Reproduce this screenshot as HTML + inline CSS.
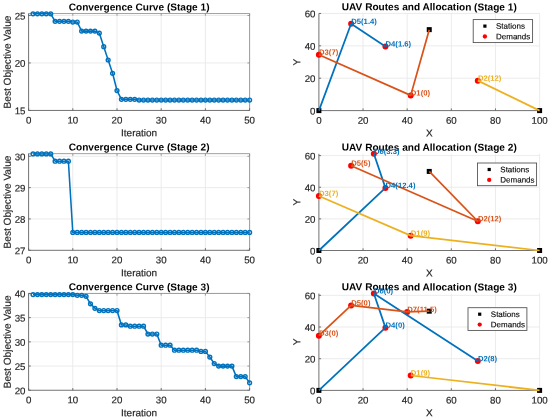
<!DOCTYPE html>
<html><head><meta charset="utf-8"><title>UAV Routes and Allocation</title>
<style>
html,body{margin:0;padding:0;background:#fff;}
body{width:550px;height:420px;overflow:hidden;}
svg{display:block;font-family:"Liberation Sans",sans-serif;}
.tk{font-size:9.7px;fill:#262626;stroke:#262626;stroke-width:0.18px;}
.lb{font-size:10px;fill:#262626;stroke:#262626;stroke-width:0.18px;}
.tt{font-size:10.1px;font-weight:bold;fill:#000;}
.lg{font-size:8px;fill:#000;stroke:#000;stroke-width:0.12px;}
.dl{font-size:7.7px;font-weight:bold;}
.grid{stroke:#e9e9e9;stroke-width:0.9;fill:none;}
.ax{stroke:#626262;stroke-width:0.9;fill:none;}
.bx{stroke:#888;stroke-width:0.8;fill:none;}
.cv{stroke:#0072BD;stroke-width:1.55;fill:none;stroke-linejoin:round;}
.mk{stroke:#0072BD;stroke-width:1.45;fill:none;}
.rt{stroke-width:1.75;fill:none;stroke-linejoin:round;}
</style></head><body>
<svg width="550" height="420" viewBox="0 0 550 420">
<rect x="0" y="0" width="550" height="420" fill="#ffffff"/>
<g>
<line class="grid" x1="72.8" y1="13.55" x2="72.8" y2="110.45"/>
<line class="grid" x1="117" y1="13.55" x2="117" y2="110.45"/>
<line class="grid" x1="161.2" y1="13.55" x2="161.2" y2="110.45"/>
<line class="grid" x1="205.4" y1="13.55" x2="205.4" y2="110.45"/>
<line class="grid" x1="249.6" y1="13.55" x2="249.6" y2="110.45"/>
<line class="grid" x1="28.6" y1="15.5" x2="249.6" y2="15.5"/>
<line class="grid" x1="28.6" y1="62.95" x2="249.6" y2="62.95"/>
<path class="bx" d="M28.6 13.55H249.6V110.45"/>
<line class="bx" x1="28.6" y1="13.55" x2="28.6" y2="15.75"/>
<line class="bx" x1="72.8" y1="13.55" x2="72.8" y2="15.75"/>
<line class="bx" x1="117" y1="13.55" x2="117" y2="15.75"/>
<line class="bx" x1="161.2" y1="13.55" x2="161.2" y2="15.75"/>
<line class="bx" x1="205.4" y1="13.55" x2="205.4" y2="15.75"/>
<line class="bx" x1="249.6" y1="13.55" x2="249.6" y2="15.75"/>
<line class="bx" x1="249.6" y1="15.5" x2="247.4" y2="15.5"/>
<line class="bx" x1="249.6" y1="62.95" x2="247.4" y2="62.95"/>
<line class="bx" x1="249.6" y1="110.45" x2="247.4" y2="110.45"/>
<path class="ax" d="M28.6 13.55V110.45H249.6"/>
<line class="ax" x1="28.6" y1="110.45" x2="28.6" y2="108.25"/>
<text class="tk" transform="translate(28.6 123.5) rotate(0.05)" text-anchor="middle">0</text>
<line class="ax" x1="72.8" y1="110.45" x2="72.8" y2="108.25"/>
<text class="tk" transform="translate(72.8 123.5) rotate(0.05)" text-anchor="middle">10</text>
<line class="ax" x1="117" y1="110.45" x2="117" y2="108.25"/>
<text class="tk" transform="translate(117 123.5) rotate(0.05)" text-anchor="middle">20</text>
<line class="ax" x1="161.2" y1="110.45" x2="161.2" y2="108.25"/>
<text class="tk" transform="translate(161.2 123.5) rotate(0.05)" text-anchor="middle">30</text>
<line class="ax" x1="205.4" y1="110.45" x2="205.4" y2="108.25"/>
<text class="tk" transform="translate(205.4 123.5) rotate(0.05)" text-anchor="middle">40</text>
<line class="ax" x1="249.6" y1="110.45" x2="249.6" y2="108.25"/>
<text class="tk" transform="translate(249.6 123.5) rotate(0.05)" text-anchor="middle">50</text>
<line class="ax" x1="28.6" y1="15.5" x2="30.8" y2="15.5"/>
<text class="tk" transform="translate(25.5 19.4) rotate(0.05)" text-anchor="end">25</text>
<line class="ax" x1="28.6" y1="62.95" x2="30.8" y2="62.95"/>
<text class="tk" transform="translate(25.5 66.85) rotate(0.05)" text-anchor="end">20</text>
<line class="ax" x1="28.6" y1="110.45" x2="30.8" y2="110.45"/>
<text class="tk" transform="translate(25.5 114.35) rotate(0.05)" text-anchor="end">15</text>
<text class="tt" transform="translate(139.1 10.45) rotate(0.05)" text-anchor="middle">Convergence Curve (Stage 1)</text>
<text class="lb" transform="translate(139.1 136.35) rotate(0.05)" text-anchor="middle">Iteration</text>
<text class="lb" transform="translate(10.7 62) rotate(-90.05)" text-anchor="middle" style="font-size:10.08px">Best Objective Value</text>
<polyline class="cv" points="33.02,13.8 37.44,13.8 41.86,13.8 46.28,13.8 50.7,13.8 55.12,21.3 59.54,21.3 63.96,21.3 68.38,21.3 72.8,22 77.22,22 81.64,31.1 86.06,31.1 90.48,31.1 94.9,31.1 99.32,33.1 103.74,46.7 108.16,60 112.58,73.3 117,90.5 121.42,99.3 125.84,99.3 130.26,99.3 134.68,99.3 139.1,100 143.52,100 147.94,100 152.36,100 156.78,100 161.2,100 165.62,100 170.04,100 174.46,100 178.88,100 183.3,100 187.72,100 192.14,100 196.56,100 200.98,100 205.4,100 209.82,100 214.24,100 218.66,100 223.08,100 227.5,100 231.92,100 236.34,100 240.76,100 245.18,100 249.6,100"/>
<circle class="mk" cx="33.02" cy="13.8" r="1.9"/>
<circle class="mk" cx="37.44" cy="13.8" r="1.9"/>
<circle class="mk" cx="41.86" cy="13.8" r="1.9"/>
<circle class="mk" cx="46.28" cy="13.8" r="1.9"/>
<circle class="mk" cx="50.7" cy="13.8" r="1.9"/>
<circle class="mk" cx="55.12" cy="21.3" r="1.9"/>
<circle class="mk" cx="59.54" cy="21.3" r="1.9"/>
<circle class="mk" cx="63.96" cy="21.3" r="1.9"/>
<circle class="mk" cx="68.38" cy="21.3" r="1.9"/>
<circle class="mk" cx="72.8" cy="22" r="1.9"/>
<circle class="mk" cx="77.22" cy="22" r="1.9"/>
<circle class="mk" cx="81.64" cy="31.1" r="1.9"/>
<circle class="mk" cx="86.06" cy="31.1" r="1.9"/>
<circle class="mk" cx="90.48" cy="31.1" r="1.9"/>
<circle class="mk" cx="94.9" cy="31.1" r="1.9"/>
<circle class="mk" cx="99.32" cy="33.1" r="1.9"/>
<circle class="mk" cx="103.74" cy="46.7" r="1.9"/>
<circle class="mk" cx="108.16" cy="60" r="1.9"/>
<circle class="mk" cx="112.58" cy="73.3" r="1.9"/>
<circle class="mk" cx="117" cy="90.5" r="1.9"/>
<circle class="mk" cx="121.42" cy="99.3" r="1.9"/>
<circle class="mk" cx="125.84" cy="99.3" r="1.9"/>
<circle class="mk" cx="130.26" cy="99.3" r="1.9"/>
<circle class="mk" cx="134.68" cy="99.3" r="1.9"/>
<circle class="mk" cx="139.1" cy="100" r="1.9"/>
<circle class="mk" cx="143.52" cy="100" r="1.9"/>
<circle class="mk" cx="147.94" cy="100" r="1.9"/>
<circle class="mk" cx="152.36" cy="100" r="1.9"/>
<circle class="mk" cx="156.78" cy="100" r="1.9"/>
<circle class="mk" cx="161.2" cy="100" r="1.9"/>
<circle class="mk" cx="165.62" cy="100" r="1.9"/>
<circle class="mk" cx="170.04" cy="100" r="1.9"/>
<circle class="mk" cx="174.46" cy="100" r="1.9"/>
<circle class="mk" cx="178.88" cy="100" r="1.9"/>
<circle class="mk" cx="183.3" cy="100" r="1.9"/>
<circle class="mk" cx="187.72" cy="100" r="1.9"/>
<circle class="mk" cx="192.14" cy="100" r="1.9"/>
<circle class="mk" cx="196.56" cy="100" r="1.9"/>
<circle class="mk" cx="200.98" cy="100" r="1.9"/>
<circle class="mk" cx="205.4" cy="100" r="1.9"/>
<circle class="mk" cx="209.82" cy="100" r="1.9"/>
<circle class="mk" cx="214.24" cy="100" r="1.9"/>
<circle class="mk" cx="218.66" cy="100" r="1.9"/>
<circle class="mk" cx="223.08" cy="100" r="1.9"/>
<circle class="mk" cx="227.5" cy="100" r="1.9"/>
<circle class="mk" cx="231.92" cy="100" r="1.9"/>
<circle class="mk" cx="236.34" cy="100" r="1.9"/>
<circle class="mk" cx="240.76" cy="100" r="1.9"/>
<circle class="mk" cx="245.18" cy="100" r="1.9"/>
<circle class="mk" cx="249.6" cy="100" r="1.9"/>
</g>
<g>
<line class="grid" x1="72.8" y1="153.65" x2="72.8" y2="250.3"/>
<line class="grid" x1="117" y1="153.65" x2="117" y2="250.3"/>
<line class="grid" x1="161.2" y1="153.65" x2="161.2" y2="250.3"/>
<line class="grid" x1="205.4" y1="153.65" x2="205.4" y2="250.3"/>
<line class="grid" x1="249.6" y1="153.65" x2="249.6" y2="250.3"/>
<line class="grid" x1="28.6" y1="156.3" x2="249.6" y2="156.3"/>
<line class="grid" x1="28.6" y1="187.65" x2="249.6" y2="187.65"/>
<line class="grid" x1="28.6" y1="218.95" x2="249.6" y2="218.95"/>
<path class="bx" d="M28.6 153.65H249.6V250.3"/>
<line class="bx" x1="28.6" y1="153.65" x2="28.6" y2="155.85"/>
<line class="bx" x1="72.8" y1="153.65" x2="72.8" y2="155.85"/>
<line class="bx" x1="117" y1="153.65" x2="117" y2="155.85"/>
<line class="bx" x1="161.2" y1="153.65" x2="161.2" y2="155.85"/>
<line class="bx" x1="205.4" y1="153.65" x2="205.4" y2="155.85"/>
<line class="bx" x1="249.6" y1="153.65" x2="249.6" y2="155.85"/>
<line class="bx" x1="249.6" y1="156.3" x2="247.4" y2="156.3"/>
<line class="bx" x1="249.6" y1="187.65" x2="247.4" y2="187.65"/>
<line class="bx" x1="249.6" y1="218.95" x2="247.4" y2="218.95"/>
<line class="bx" x1="249.6" y1="250.3" x2="247.4" y2="250.3"/>
<path class="ax" d="M28.6 153.65V250.3H249.6"/>
<line class="ax" x1="28.6" y1="250.3" x2="28.6" y2="248.1"/>
<text class="tk" transform="translate(28.6 263.35) rotate(0.05)" text-anchor="middle">0</text>
<line class="ax" x1="72.8" y1="250.3" x2="72.8" y2="248.1"/>
<text class="tk" transform="translate(72.8 263.35) rotate(0.05)" text-anchor="middle">10</text>
<line class="ax" x1="117" y1="250.3" x2="117" y2="248.1"/>
<text class="tk" transform="translate(117 263.35) rotate(0.05)" text-anchor="middle">20</text>
<line class="ax" x1="161.2" y1="250.3" x2="161.2" y2="248.1"/>
<text class="tk" transform="translate(161.2 263.35) rotate(0.05)" text-anchor="middle">30</text>
<line class="ax" x1="205.4" y1="250.3" x2="205.4" y2="248.1"/>
<text class="tk" transform="translate(205.4 263.35) rotate(0.05)" text-anchor="middle">40</text>
<line class="ax" x1="249.6" y1="250.3" x2="249.6" y2="248.1"/>
<text class="tk" transform="translate(249.6 263.35) rotate(0.05)" text-anchor="middle">50</text>
<line class="ax" x1="28.6" y1="156.3" x2="30.8" y2="156.3"/>
<text class="tk" transform="translate(25.5 160.2) rotate(0.05)" text-anchor="end">30</text>
<line class="ax" x1="28.6" y1="187.65" x2="30.8" y2="187.65"/>
<text class="tk" transform="translate(25.5 191.55) rotate(0.05)" text-anchor="end">29</text>
<line class="ax" x1="28.6" y1="218.95" x2="30.8" y2="218.95"/>
<text class="tk" transform="translate(25.5 222.85) rotate(0.05)" text-anchor="end">28</text>
<line class="ax" x1="28.6" y1="250.3" x2="30.8" y2="250.3"/>
<text class="tk" transform="translate(25.5 254.2) rotate(0.05)" text-anchor="end">27</text>
<text class="tt" transform="translate(139.1 150.55) rotate(0.05)" text-anchor="middle">Convergence Curve (Stage 2)</text>
<text class="lb" transform="translate(139.1 276.2) rotate(0.05)" text-anchor="middle">Iteration</text>
<text class="lb" transform="translate(10.7 201.98) rotate(-90.05)" text-anchor="middle" style="font-size:10.08px">Best Objective Value</text>
<polyline class="cv" points="33.02,153.9 37.44,153.9 41.86,153.9 46.28,153.9 50.7,153.9 55.12,161.2 59.54,161.2 63.96,161.2 68.38,161.2 72.8,232.4 77.22,232.4 81.64,232.4 86.06,232.4 90.48,232.4 94.9,232.4 99.32,232.4 103.74,232.4 108.16,232.4 112.58,232.4 117,232.4 121.42,232.4 125.84,232.4 130.26,232.4 134.68,232.4 139.1,232.4 143.52,232.4 147.94,232.4 152.36,232.4 156.78,232.4 161.2,232.4 165.62,232.4 170.04,232.4 174.46,232.4 178.88,232.4 183.3,232.4 187.72,232.4 192.14,232.4 196.56,232.4 200.98,232.4 205.4,232.4 209.82,232.4 214.24,232.4 218.66,232.4 223.08,232.4 227.5,232.4 231.92,232.4 236.34,232.4 240.76,232.4 245.18,232.4 249.6,232.4"/>
<circle class="mk" cx="33.02" cy="153.9" r="1.9"/>
<circle class="mk" cx="37.44" cy="153.9" r="1.9"/>
<circle class="mk" cx="41.86" cy="153.9" r="1.9"/>
<circle class="mk" cx="46.28" cy="153.9" r="1.9"/>
<circle class="mk" cx="50.7" cy="153.9" r="1.9"/>
<circle class="mk" cx="55.12" cy="161.2" r="1.9"/>
<circle class="mk" cx="59.54" cy="161.2" r="1.9"/>
<circle class="mk" cx="63.96" cy="161.2" r="1.9"/>
<circle class="mk" cx="68.38" cy="161.2" r="1.9"/>
<circle class="mk" cx="72.8" cy="232.4" r="1.9"/>
<circle class="mk" cx="77.22" cy="232.4" r="1.9"/>
<circle class="mk" cx="81.64" cy="232.4" r="1.9"/>
<circle class="mk" cx="86.06" cy="232.4" r="1.9"/>
<circle class="mk" cx="90.48" cy="232.4" r="1.9"/>
<circle class="mk" cx="94.9" cy="232.4" r="1.9"/>
<circle class="mk" cx="99.32" cy="232.4" r="1.9"/>
<circle class="mk" cx="103.74" cy="232.4" r="1.9"/>
<circle class="mk" cx="108.16" cy="232.4" r="1.9"/>
<circle class="mk" cx="112.58" cy="232.4" r="1.9"/>
<circle class="mk" cx="117" cy="232.4" r="1.9"/>
<circle class="mk" cx="121.42" cy="232.4" r="1.9"/>
<circle class="mk" cx="125.84" cy="232.4" r="1.9"/>
<circle class="mk" cx="130.26" cy="232.4" r="1.9"/>
<circle class="mk" cx="134.68" cy="232.4" r="1.9"/>
<circle class="mk" cx="139.1" cy="232.4" r="1.9"/>
<circle class="mk" cx="143.52" cy="232.4" r="1.9"/>
<circle class="mk" cx="147.94" cy="232.4" r="1.9"/>
<circle class="mk" cx="152.36" cy="232.4" r="1.9"/>
<circle class="mk" cx="156.78" cy="232.4" r="1.9"/>
<circle class="mk" cx="161.2" cy="232.4" r="1.9"/>
<circle class="mk" cx="165.62" cy="232.4" r="1.9"/>
<circle class="mk" cx="170.04" cy="232.4" r="1.9"/>
<circle class="mk" cx="174.46" cy="232.4" r="1.9"/>
<circle class="mk" cx="178.88" cy="232.4" r="1.9"/>
<circle class="mk" cx="183.3" cy="232.4" r="1.9"/>
<circle class="mk" cx="187.72" cy="232.4" r="1.9"/>
<circle class="mk" cx="192.14" cy="232.4" r="1.9"/>
<circle class="mk" cx="196.56" cy="232.4" r="1.9"/>
<circle class="mk" cx="200.98" cy="232.4" r="1.9"/>
<circle class="mk" cx="205.4" cy="232.4" r="1.9"/>
<circle class="mk" cx="209.82" cy="232.4" r="1.9"/>
<circle class="mk" cx="214.24" cy="232.4" r="1.9"/>
<circle class="mk" cx="218.66" cy="232.4" r="1.9"/>
<circle class="mk" cx="223.08" cy="232.4" r="1.9"/>
<circle class="mk" cx="227.5" cy="232.4" r="1.9"/>
<circle class="mk" cx="231.92" cy="232.4" r="1.9"/>
<circle class="mk" cx="236.34" cy="232.4" r="1.9"/>
<circle class="mk" cx="240.76" cy="232.4" r="1.9"/>
<circle class="mk" cx="245.18" cy="232.4" r="1.9"/>
<circle class="mk" cx="249.6" cy="232.4" r="1.9"/>
</g>
<g>
<line class="grid" x1="72.8" y1="293.45" x2="72.8" y2="390.25"/>
<line class="grid" x1="117" y1="293.45" x2="117" y2="390.25"/>
<line class="grid" x1="161.2" y1="293.45" x2="161.2" y2="390.25"/>
<line class="grid" x1="205.4" y1="293.45" x2="205.4" y2="390.25"/>
<line class="grid" x1="249.6" y1="293.45" x2="249.6" y2="390.25"/>
<line class="grid" x1="28.6" y1="293.45" x2="249.6" y2="293.45"/>
<line class="grid" x1="28.6" y1="317.65" x2="249.6" y2="317.65"/>
<line class="grid" x1="28.6" y1="341.85" x2="249.6" y2="341.85"/>
<line class="grid" x1="28.6" y1="366.05" x2="249.6" y2="366.05"/>
<path class="bx" d="M28.6 293.45H249.6V390.25"/>
<line class="bx" x1="28.6" y1="293.45" x2="28.6" y2="295.65"/>
<line class="bx" x1="72.8" y1="293.45" x2="72.8" y2="295.65"/>
<line class="bx" x1="117" y1="293.45" x2="117" y2="295.65"/>
<line class="bx" x1="161.2" y1="293.45" x2="161.2" y2="295.65"/>
<line class="bx" x1="205.4" y1="293.45" x2="205.4" y2="295.65"/>
<line class="bx" x1="249.6" y1="293.45" x2="249.6" y2="295.65"/>
<line class="bx" x1="249.6" y1="293.45" x2="247.4" y2="293.45"/>
<line class="bx" x1="249.6" y1="317.65" x2="247.4" y2="317.65"/>
<line class="bx" x1="249.6" y1="341.85" x2="247.4" y2="341.85"/>
<line class="bx" x1="249.6" y1="366.05" x2="247.4" y2="366.05"/>
<line class="bx" x1="249.6" y1="390.25" x2="247.4" y2="390.25"/>
<path class="ax" d="M28.6 293.45V390.25H249.6"/>
<line class="ax" x1="28.6" y1="390.25" x2="28.6" y2="388.05"/>
<text class="tk" transform="translate(28.6 403.3) rotate(0.05)" text-anchor="middle">0</text>
<line class="ax" x1="72.8" y1="390.25" x2="72.8" y2="388.05"/>
<text class="tk" transform="translate(72.8 403.3) rotate(0.05)" text-anchor="middle">10</text>
<line class="ax" x1="117" y1="390.25" x2="117" y2="388.05"/>
<text class="tk" transform="translate(117 403.3) rotate(0.05)" text-anchor="middle">20</text>
<line class="ax" x1="161.2" y1="390.25" x2="161.2" y2="388.05"/>
<text class="tk" transform="translate(161.2 403.3) rotate(0.05)" text-anchor="middle">30</text>
<line class="ax" x1="205.4" y1="390.25" x2="205.4" y2="388.05"/>
<text class="tk" transform="translate(205.4 403.3) rotate(0.05)" text-anchor="middle">40</text>
<line class="ax" x1="249.6" y1="390.25" x2="249.6" y2="388.05"/>
<text class="tk" transform="translate(249.6 403.3) rotate(0.05)" text-anchor="middle">50</text>
<line class="ax" x1="28.6" y1="293.45" x2="30.8" y2="293.45"/>
<text class="tk" transform="translate(25.5 297.35) rotate(0.05)" text-anchor="end">40</text>
<line class="ax" x1="28.6" y1="317.65" x2="30.8" y2="317.65"/>
<text class="tk" transform="translate(25.5 321.55) rotate(0.05)" text-anchor="end">35</text>
<line class="ax" x1="28.6" y1="341.85" x2="30.8" y2="341.85"/>
<text class="tk" transform="translate(25.5 345.75) rotate(0.05)" text-anchor="end">30</text>
<line class="ax" x1="28.6" y1="366.05" x2="30.8" y2="366.05"/>
<text class="tk" transform="translate(25.5 369.95) rotate(0.05)" text-anchor="end">25</text>
<line class="ax" x1="28.6" y1="390.25" x2="30.8" y2="390.25"/>
<text class="tk" transform="translate(25.5 394.15) rotate(0.05)" text-anchor="end">20</text>
<text class="tt" transform="translate(139.1 290.35) rotate(0.05)" text-anchor="middle">Convergence Curve (Stage 3)</text>
<text class="lb" transform="translate(139.1 416.15) rotate(0.05)" text-anchor="middle">Iteration</text>
<text class="lb" transform="translate(10.7 341.85) rotate(-90.05)" text-anchor="middle" style="font-size:10.08px">Best Objective Value</text>
<polyline class="cv" points="33.02,294.6 37.44,294.6 41.86,294.6 46.28,294.6 50.7,294.6 55.12,294.6 59.54,294.6 63.96,294.6 68.38,294.6 72.8,294.6 77.22,295.3 81.64,295.3 86.06,296.3 90.48,303.8 94.9,308.3 99.32,310.5 103.74,310.5 108.16,310.5 112.58,310.5 117,310.5 121.42,324.9 125.84,324.9 130.26,326.2 134.68,326.2 139.1,326.2 143.52,326.2 147.94,334 152.36,334 156.78,334 161.2,345.2 165.62,345.2 170.04,345.2 174.46,350.2 178.88,350.2 183.3,350.2 187.72,350.2 192.14,350.2 196.56,350.2 200.98,351.4 205.4,351.4 209.82,357.1 214.24,363.5 218.66,366.1 223.08,366.1 227.5,366.1 231.92,366.1 236.34,376.6 240.76,376.6 245.18,376.6 249.6,382.8"/>
<circle class="mk" cx="33.02" cy="294.6" r="1.9"/>
<circle class="mk" cx="37.44" cy="294.6" r="1.9"/>
<circle class="mk" cx="41.86" cy="294.6" r="1.9"/>
<circle class="mk" cx="46.28" cy="294.6" r="1.9"/>
<circle class="mk" cx="50.7" cy="294.6" r="1.9"/>
<circle class="mk" cx="55.12" cy="294.6" r="1.9"/>
<circle class="mk" cx="59.54" cy="294.6" r="1.9"/>
<circle class="mk" cx="63.96" cy="294.6" r="1.9"/>
<circle class="mk" cx="68.38" cy="294.6" r="1.9"/>
<circle class="mk" cx="72.8" cy="294.6" r="1.9"/>
<circle class="mk" cx="77.22" cy="295.3" r="1.9"/>
<circle class="mk" cx="81.64" cy="295.3" r="1.9"/>
<circle class="mk" cx="86.06" cy="296.3" r="1.9"/>
<circle class="mk" cx="90.48" cy="303.8" r="1.9"/>
<circle class="mk" cx="94.9" cy="308.3" r="1.9"/>
<circle class="mk" cx="99.32" cy="310.5" r="1.9"/>
<circle class="mk" cx="103.74" cy="310.5" r="1.9"/>
<circle class="mk" cx="108.16" cy="310.5" r="1.9"/>
<circle class="mk" cx="112.58" cy="310.5" r="1.9"/>
<circle class="mk" cx="117" cy="310.5" r="1.9"/>
<circle class="mk" cx="121.42" cy="324.9" r="1.9"/>
<circle class="mk" cx="125.84" cy="324.9" r="1.9"/>
<circle class="mk" cx="130.26" cy="326.2" r="1.9"/>
<circle class="mk" cx="134.68" cy="326.2" r="1.9"/>
<circle class="mk" cx="139.1" cy="326.2" r="1.9"/>
<circle class="mk" cx="143.52" cy="326.2" r="1.9"/>
<circle class="mk" cx="147.94" cy="334" r="1.9"/>
<circle class="mk" cx="152.36" cy="334" r="1.9"/>
<circle class="mk" cx="156.78" cy="334" r="1.9"/>
<circle class="mk" cx="161.2" cy="345.2" r="1.9"/>
<circle class="mk" cx="165.62" cy="345.2" r="1.9"/>
<circle class="mk" cx="170.04" cy="345.2" r="1.9"/>
<circle class="mk" cx="174.46" cy="350.2" r="1.9"/>
<circle class="mk" cx="178.88" cy="350.2" r="1.9"/>
<circle class="mk" cx="183.3" cy="350.2" r="1.9"/>
<circle class="mk" cx="187.72" cy="350.2" r="1.9"/>
<circle class="mk" cx="192.14" cy="350.2" r="1.9"/>
<circle class="mk" cx="196.56" cy="350.2" r="1.9"/>
<circle class="mk" cx="200.98" cy="351.4" r="1.9"/>
<circle class="mk" cx="205.4" cy="351.4" r="1.9"/>
<circle class="mk" cx="209.82" cy="357.1" r="1.9"/>
<circle class="mk" cx="214.24" cy="363.5" r="1.9"/>
<circle class="mk" cx="218.66" cy="366.1" r="1.9"/>
<circle class="mk" cx="223.08" cy="366.1" r="1.9"/>
<circle class="mk" cx="227.5" cy="366.1" r="1.9"/>
<circle class="mk" cx="231.92" cy="366.1" r="1.9"/>
<circle class="mk" cx="236.34" cy="376.6" r="1.9"/>
<circle class="mk" cx="240.76" cy="376.6" r="1.9"/>
<circle class="mk" cx="245.18" cy="376.6" r="1.9"/>
<circle class="mk" cx="249.6" cy="382.8" r="1.9"/>
</g>
<g>
<line class="grid" x1="363.04" y1="13.45" x2="363.04" y2="110.6"/>
<line class="grid" x1="407.18" y1="13.45" x2="407.18" y2="110.6"/>
<line class="grid" x1="451.32" y1="13.45" x2="451.32" y2="110.6"/>
<line class="grid" x1="495.46" y1="13.45" x2="495.46" y2="110.6"/>
<line class="grid" x1="539.6" y1="13.45" x2="539.6" y2="110.6"/>
<line class="grid" x1="318.9" y1="78.22" x2="539.6" y2="78.22"/>
<line class="grid" x1="318.9" y1="45.83" x2="539.6" y2="45.83"/>
<line class="grid" x1="318.9" y1="13.45" x2="539.6" y2="13.45"/>
<path class="ax" d="M318.9 13.45V110.6H539.6"/>
<line class="ax" x1="318.9" y1="110.6" x2="318.9" y2="108.4"/>
<text class="tk" transform="translate(318.9 123.65) rotate(0.05)" text-anchor="middle">0</text>
<line class="ax" x1="363.04" y1="110.6" x2="363.04" y2="108.4"/>
<text class="tk" transform="translate(363.04 123.65) rotate(0.05)" text-anchor="middle">20</text>
<line class="ax" x1="407.18" y1="110.6" x2="407.18" y2="108.4"/>
<text class="tk" transform="translate(407.18 123.65) rotate(0.05)" text-anchor="middle">40</text>
<line class="ax" x1="451.32" y1="110.6" x2="451.32" y2="108.4"/>
<text class="tk" transform="translate(451.32 123.65) rotate(0.05)" text-anchor="middle">60</text>
<line class="ax" x1="495.46" y1="110.6" x2="495.46" y2="108.4"/>
<text class="tk" transform="translate(495.46 123.65) rotate(0.05)" text-anchor="middle">80</text>
<line class="ax" x1="539.6" y1="110.6" x2="539.6" y2="108.4"/>
<text class="tk" transform="translate(539.6 123.65) rotate(0.05)" text-anchor="middle">100</text>
<line class="ax" x1="318.9" y1="110.6" x2="321.1" y2="110.6"/>
<text class="tk" transform="translate(315.5 114.5) rotate(0.05)" text-anchor="end">0</text>
<line class="ax" x1="318.9" y1="78.22" x2="321.1" y2="78.22"/>
<text class="tk" transform="translate(315.5 82.12) rotate(0.05)" text-anchor="end">20</text>
<line class="ax" x1="318.9" y1="45.83" x2="321.1" y2="45.83"/>
<text class="tk" transform="translate(315.5 49.73) rotate(0.05)" text-anchor="end">40</text>
<line class="ax" x1="318.9" y1="13.45" x2="321.1" y2="13.45"/>
<text class="tk" transform="translate(315.5 17.35) rotate(0.05)" text-anchor="end">60</text>
<text class="tt" transform="translate(429.25 10.35) rotate(0.05)" text-anchor="middle">UAV Routes and Allocation (Stage 1)</text>
<text class="lb" transform="translate(429.25 136.5) rotate(0.05)" text-anchor="middle">X</text>
<text class="lb" transform="translate(300.3 62.02) rotate(-90.05)" text-anchor="middle" style="font-size:10.08px">Y</text>
<rect x="316.4" y="108.1" width="5" height="5" fill="#000"/>
<rect x="426.75" y="27.14" width="5" height="5" fill="#000"/>
<rect x="537.1" y="108.1" width="5" height="5" fill="#000"/>
<circle cx="410.71" cy="95.38" r="3.0" fill="#ff0000"/>
<circle cx="477.8" cy="80.65" r="3.0" fill="#ff0000"/>
<circle cx="318.9" cy="54.74" r="3.0" fill="#ff0000"/>
<circle cx="385.44" cy="46.48" r="3.0" fill="#ff0000"/>
<circle cx="351.12" cy="23.81" r="3.0" fill="#ff0000"/>
<polyline class="rt" stroke="#0072BD" points="318.9,110.6 351.12,23.81 385.44,46.48"/>
<polyline class="rt" stroke="#D95319" points="429.25,29.64 410.71,95.38 318.9,54.74"/>
<polyline class="rt" stroke="#EDB120" points="539.6,110.6 477.8,80.65"/>
<text class="dl" transform="translate(351.22 23.91) rotate(0.05)" fill="#0072BD">D5(1.4)</text>
<text class="dl" transform="translate(385.54 46.58) rotate(0.05)" fill="#0072BD">D4(1.6)</text>
<text class="dl" transform="translate(410.81 95.48) rotate(0.05)" fill="#D95319">D1(0)</text>
<text class="dl" transform="translate(319 54.84) rotate(0.05)" fill="#D95319">D3(7)</text>
<text class="dl" transform="translate(477.9 80.75) rotate(0.05)" fill="#EDB120">D2(12)</text>
<rect x="473.2" y="19.6" width="59.4" height="23" fill="#fff" stroke="#4d4d4d" stroke-width="0.85"/>
<rect x="483.3" y="24.5" width="3.2" height="3.2" fill="#000"/>
<circle cx="484.9" cy="36.5" r="2.15" fill="#ff0000"/>
<text class="lg" transform="translate(496 28.8) rotate(0.05)">Stations</text>
<text class="lg" transform="translate(496 39.2) rotate(0.05)">Demands</text>
</g>
<g>
<line class="grid" x1="363.04" y1="153.8" x2="363.04" y2="250.5"/>
<line class="grid" x1="407.18" y1="153.8" x2="407.18" y2="250.5"/>
<line class="grid" x1="451.32" y1="153.8" x2="451.32" y2="250.5"/>
<line class="grid" x1="495.46" y1="153.8" x2="495.46" y2="250.5"/>
<line class="grid" x1="539.6" y1="153.8" x2="539.6" y2="250.5"/>
<line class="grid" x1="318.9" y1="218.87" x2="539.6" y2="218.87"/>
<line class="grid" x1="318.9" y1="187.25" x2="539.6" y2="187.25"/>
<line class="grid" x1="318.9" y1="155.62" x2="539.6" y2="155.62"/>
<path class="ax" d="M318.9 153.8V250.5H539.6"/>
<line class="ax" x1="318.9" y1="250.5" x2="318.9" y2="248.3"/>
<text class="tk" transform="translate(318.9 263.55) rotate(0.05)" text-anchor="middle">0</text>
<line class="ax" x1="363.04" y1="250.5" x2="363.04" y2="248.3"/>
<text class="tk" transform="translate(363.04 263.55) rotate(0.05)" text-anchor="middle">20</text>
<line class="ax" x1="407.18" y1="250.5" x2="407.18" y2="248.3"/>
<text class="tk" transform="translate(407.18 263.55) rotate(0.05)" text-anchor="middle">40</text>
<line class="ax" x1="451.32" y1="250.5" x2="451.32" y2="248.3"/>
<text class="tk" transform="translate(451.32 263.55) rotate(0.05)" text-anchor="middle">60</text>
<line class="ax" x1="495.46" y1="250.5" x2="495.46" y2="248.3"/>
<text class="tk" transform="translate(495.46 263.55) rotate(0.05)" text-anchor="middle">80</text>
<line class="ax" x1="539.6" y1="250.5" x2="539.6" y2="248.3"/>
<text class="tk" transform="translate(539.6 263.55) rotate(0.05)" text-anchor="middle">100</text>
<line class="ax" x1="318.9" y1="250.5" x2="321.1" y2="250.5"/>
<text class="tk" transform="translate(315.5 254.4) rotate(0.05)" text-anchor="end">0</text>
<line class="ax" x1="318.9" y1="218.87" x2="321.1" y2="218.87"/>
<text class="tk" transform="translate(315.5 222.77) rotate(0.05)" text-anchor="end">20</text>
<line class="ax" x1="318.9" y1="187.25" x2="321.1" y2="187.25"/>
<text class="tk" transform="translate(315.5 191.15) rotate(0.05)" text-anchor="end">40</text>
<line class="ax" x1="318.9" y1="155.62" x2="321.1" y2="155.62"/>
<text class="tk" transform="translate(315.5 159.52) rotate(0.05)" text-anchor="end">60</text>
<text class="tt" transform="translate(429.25 150.7) rotate(0.05)" text-anchor="middle">UAV Routes and Allocation (Stage 2)</text>
<text class="lb" transform="translate(429.25 276.4) rotate(0.05)" text-anchor="middle">X</text>
<text class="lb" transform="translate(300.3 202.15) rotate(-90.05)" text-anchor="middle" style="font-size:10.08px">Y</text>
<rect x="316.4" y="248" width="5" height="5" fill="#000"/>
<rect x="426.75" y="168.93" width="5" height="5" fill="#000"/>
<rect x="537.1" y="248" width="5" height="5" fill="#000"/>
<circle cx="410.71" cy="235.64" r="3.0" fill="#ff0000"/>
<circle cx="477.8" cy="221.24" r="3.0" fill="#ff0000"/>
<circle cx="318.9" cy="195.94" r="3.0" fill="#ff0000"/>
<circle cx="385.44" cy="187.88" r="3.0" fill="#ff0000"/>
<circle cx="351.12" cy="165.74" r="3.0" fill="#ff0000"/>
<circle cx="373.85" cy="153.8" r="3.0" fill="#ff0000"/>
<polyline class="rt" stroke="#0072BD" points="318.9,250.5 385.44,187.88 373.85,153.8"/>
<polyline class="rt" stroke="#D95319" points="429.25,171.43 477.8,221.24 351.12,165.74"/>
<polyline class="rt" stroke="#EDB120" points="539.6,250.5 410.71,235.64 318.9,195.94"/>
<text class="dl" transform="translate(385.54 187.98) rotate(0.05)" fill="#0072BD">D4(12.4)</text>
<text class="dl" transform="translate(373.95 153.9) rotate(0.05)" fill="#0072BD">D6(3.3)</text>
<text class="dl" transform="translate(477.9 221.34) rotate(0.05)" fill="#D95319">D2(12)</text>
<text class="dl" transform="translate(351.22 165.84) rotate(0.05)" fill="#D95319">D5(5)</text>
<text class="dl" transform="translate(410.81 235.74) rotate(0.05)" fill="#EDB120">D1(9)</text>
<text class="dl" transform="translate(319 196.04) rotate(0.05)" fill="#EDB120">D3(7)</text>
<rect x="477.5" y="163" width="59.1" height="22.7" fill="#fff" stroke="#4d4d4d" stroke-width="0.85"/>
<rect x="487.6" y="167.9" width="3.2" height="3.2" fill="#000"/>
<circle cx="489.2" cy="179.9" r="2.15" fill="#ff0000"/>
<text class="lg" transform="translate(500.3 172.2) rotate(0.05)">Stations</text>
<text class="lg" transform="translate(500.3 182.6) rotate(0.05)">Demands</text>
</g>
<g>
<line class="grid" x1="363.04" y1="293.5" x2="363.04" y2="390.4"/>
<line class="grid" x1="407.18" y1="293.5" x2="407.18" y2="390.4"/>
<line class="grid" x1="451.32" y1="293.5" x2="451.32" y2="390.4"/>
<line class="grid" x1="495.46" y1="293.5" x2="495.46" y2="390.4"/>
<line class="grid" x1="539.6" y1="293.5" x2="539.6" y2="390.4"/>
<line class="grid" x1="318.9" y1="358.71" x2="539.6" y2="358.71"/>
<line class="grid" x1="318.9" y1="327.01" x2="539.6" y2="327.01"/>
<line class="grid" x1="318.9" y1="295.32" x2="539.6" y2="295.32"/>
<path class="ax" d="M318.9 293.5V390.4H539.6"/>
<line class="ax" x1="318.9" y1="390.4" x2="318.9" y2="388.2"/>
<text class="tk" transform="translate(318.9 403.45) rotate(0.05)" text-anchor="middle">0</text>
<line class="ax" x1="363.04" y1="390.4" x2="363.04" y2="388.2"/>
<text class="tk" transform="translate(363.04 403.45) rotate(0.05)" text-anchor="middle">20</text>
<line class="ax" x1="407.18" y1="390.4" x2="407.18" y2="388.2"/>
<text class="tk" transform="translate(407.18 403.45) rotate(0.05)" text-anchor="middle">40</text>
<line class="ax" x1="451.32" y1="390.4" x2="451.32" y2="388.2"/>
<text class="tk" transform="translate(451.32 403.45) rotate(0.05)" text-anchor="middle">60</text>
<line class="ax" x1="495.46" y1="390.4" x2="495.46" y2="388.2"/>
<text class="tk" transform="translate(495.46 403.45) rotate(0.05)" text-anchor="middle">80</text>
<line class="ax" x1="539.6" y1="390.4" x2="539.6" y2="388.2"/>
<text class="tk" transform="translate(539.6 403.45) rotate(0.05)" text-anchor="middle">100</text>
<line class="ax" x1="318.9" y1="390.4" x2="321.1" y2="390.4"/>
<text class="tk" transform="translate(315.5 394.3) rotate(0.05)" text-anchor="end">0</text>
<line class="ax" x1="318.9" y1="358.71" x2="321.1" y2="358.71"/>
<text class="tk" transform="translate(315.5 362.61) rotate(0.05)" text-anchor="end">20</text>
<line class="ax" x1="318.9" y1="327.01" x2="321.1" y2="327.01"/>
<text class="tk" transform="translate(315.5 330.91) rotate(0.05)" text-anchor="end">40</text>
<line class="ax" x1="318.9" y1="295.32" x2="321.1" y2="295.32"/>
<text class="tk" transform="translate(315.5 299.22) rotate(0.05)" text-anchor="end">60</text>
<text class="tt" transform="translate(429.25 290.4) rotate(0.05)" text-anchor="middle">UAV Routes and Allocation (Stage 3)</text>
<text class="lb" transform="translate(429.25 416.3) rotate(0.05)" text-anchor="middle">X</text>
<text class="lb" transform="translate(300.3 341.95) rotate(-90.05)" text-anchor="middle" style="font-size:10.08px">Y</text>
<rect x="316.4" y="387.9" width="5" height="5" fill="#000"/>
<rect x="426.75" y="308.67" width="5" height="5" fill="#000"/>
<rect x="537.1" y="387.9" width="5" height="5" fill="#000"/>
<circle cx="410.71" cy="375.5" r="3.0" fill="#ff0000"/>
<circle cx="477.8" cy="361.08" r="3.0" fill="#ff0000"/>
<circle cx="318.9" cy="335.73" r="3.0" fill="#ff0000"/>
<circle cx="385.44" cy="327.65" r="3.0" fill="#ff0000"/>
<circle cx="351.12" cy="305.46" r="3.0" fill="#ff0000"/>
<circle cx="373.85" cy="293.5" r="3.0" fill="#ff0000"/>
<circle cx="407.18" cy="311.96" r="3.0" fill="#ff0000"/>
<polyline class="rt" stroke="#0072BD" points="318.9,390.4 385.44,327.65 373.85,293.5 477.8,361.08"/>
<polyline class="rt" stroke="#D95319" points="429.25,311.17 407.18,311.96 351.12,305.46 318.9,335.73"/>
<polyline class="rt" stroke="#EDB120" points="539.6,390.4 410.71,375.5"/>
<text class="dl" transform="translate(385.54 327.75) rotate(0.05)" fill="#0072BD">D4(0)</text>
<text class="dl" transform="translate(373.95 293.6) rotate(0.05)" fill="#0072BD">D6(0)</text>
<text class="dl" transform="translate(477.9 361.18) rotate(0.05)" fill="#0072BD">D2(8)</text>
<text class="dl" transform="translate(407.28 312.06) rotate(0.05)" fill="#D95319">D7(11.5)</text>
<text class="dl" transform="translate(351.22 305.56) rotate(0.05)" fill="#D95319">D5(0)</text>
<text class="dl" transform="translate(319 335.83) rotate(0.05)" fill="#D95319">D3(0)</text>
<text class="dl" transform="translate(410.81 375.6) rotate(0.05)" fill="#EDB120">D1(9)</text>
<rect x="468" y="307.7" width="58.9" height="22.7" fill="#fff" stroke="#4d4d4d" stroke-width="0.85"/>
<rect x="478.1" y="312.6" width="3.2" height="3.2" fill="#000"/>
<circle cx="479.7" cy="324.6" r="2.15" fill="#ff0000"/>
<text class="lg" transform="translate(490.8 316.9) rotate(0.05)">Stations</text>
<text class="lg" transform="translate(490.8 327.3) rotate(0.05)">Demands</text>
</g>
</svg>
</body></html>
